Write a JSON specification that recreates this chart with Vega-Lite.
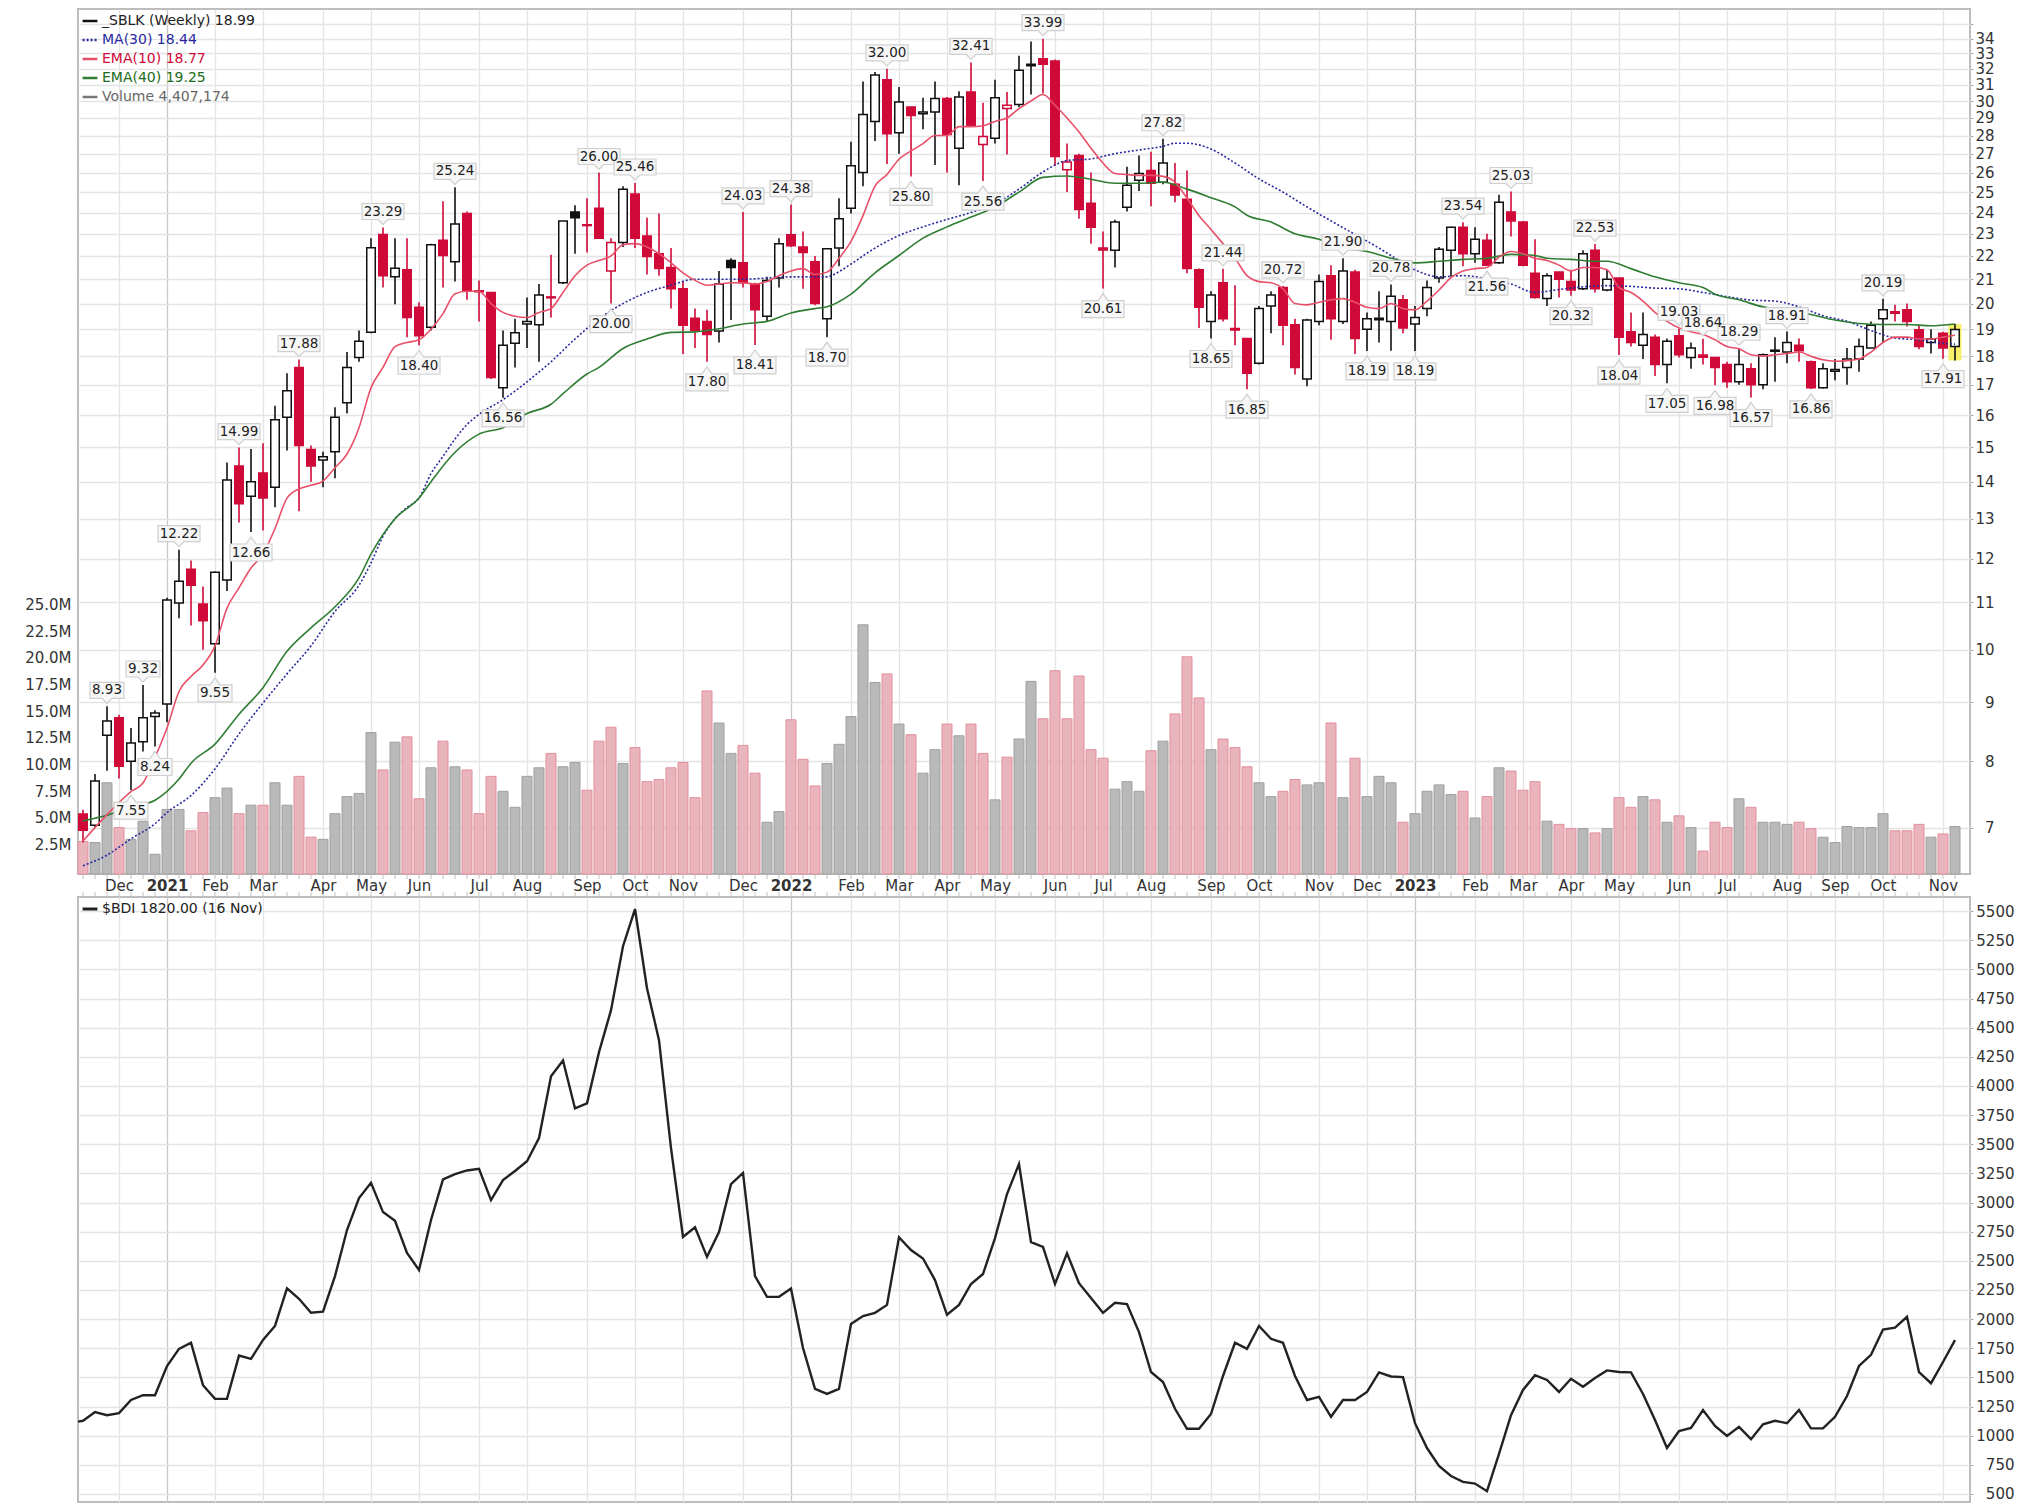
{
  "$schema": "https://vega.github.io/schema/vega-lite/v6.json",
  "background": "white",
  "padding": {"left": 23, "top": 8, "right": 20, "bottom": 4},
  "bounds": "flush",
  "spacing": 23,
  "resolve": {"scale": {"color": "independent"}, "legend": {"color": "independent"}},
  "config": {
    "font": "DejaVu Sans",
    "view": {"stroke": "#bdbdbd", "strokeWidth": 2},
    "axis": {"labelOverlap": false}
  },
  "datasets": {
    "candles": [
      {"date":"2020-11-20","open":7.2,"high":7.26,"low":6.8,"close":6.97,"volume":2800000,"dir":"down"},
      {"date":"2020-11-27","open":7.04,"high":7.8,"low":7.0,"close":7.69,"volume":2700000,"dir":"up"},
      {"date":"2020-12-04","open":8.43,"high":8.93,"low":7.85,"close":8.67,"volume":8300000,"dir":"up"},
      {"date":"2020-12-11","open":8.73,"high":8.78,"low":7.73,"close":7.92,"volume":4100000,"dir":"down"},
      {"date":"2020-12-18","open":8.0,"high":8.55,"low":7.55,"close":8.3,"volume":3000000,"dir":"up"},
      {"date":"2020-12-25","open":8.32,"high":9.32,"low":8.16,"close":8.73,"volume":4700000,"dir":"up"},
      {"date":"2021-01-01","open":8.75,"high":8.86,"low":8.24,"close":8.81,"volume":1600000,"dir":"up"},
      {"date":"2021-01-08","open":8.97,"high":11.1,"low":8.65,"close":11.05,"volume":5800000,"dir":"up"},
      {"date":"2021-01-15","open":10.98,"high":12.22,"low":10.65,"close":11.47,"volume":5800000,"dir":"up"},
      {"date":"2021-01-22","open":11.75,"high":11.96,"low":10.5,"close":11.38,"volume":3800000,"dir":"down"},
      {"date":"2021-01-29","open":10.96,"high":11.35,"low":10.0,"close":10.6,"volume":5500000,"dir":"down"},
      {"date":"2021-02-05","open":10.12,"high":11.7,"low":9.55,"close":11.68,"volume":6900000,"dir":"up"},
      {"date":"2021-02-12","open":11.5,"high":14.55,"low":11.25,"close":14.05,"volume":7800000,"dir":"up"},
      {"date":"2021-02-19","open":14.45,"high":14.99,"low":12.9,"close":13.4,"volume":5400000,"dir":"down"},
      {"date":"2021-02-26","open":13.6,"high":14.95,"low":12.66,"close":14.0,"volume":6200000,"dir":"up"},
      {"date":"2021-03-05","open":14.25,"high":15.12,"low":12.7,"close":13.55,"volume":6200000,"dir":"down"},
      {"date":"2021-03-12","open":13.85,"high":16.3,"low":13.3,"close":15.85,"volume":8300000,"dir":"up"},
      {"date":"2021-03-19","open":15.93,"high":17.4,"low":14.9,"close":16.8,"volume":6200000,"dir":"up"},
      {"date":"2021-03-26","open":17.6,"high":17.88,"low":13.2,"close":15.05,"volume":8900000,"dir":"down"},
      {"date":"2021-04-02","open":14.93,"high":15.05,"low":14.0,"close":14.45,"volume":3200000,"dir":"down"},
      {"date":"2021-04-09","open":14.62,"high":14.87,"low":13.85,"close":14.72,"volume":3000000,"dir":"up"},
      {"date":"2021-04-16","open":14.87,"high":16.25,"low":14.1,"close":15.93,"volume":5400000,"dir":"up"},
      {"date":"2021-04-23","open":16.4,"high":18.15,"low":16.05,"close":17.6,"volume":7000000,"dir":"up"},
      {"date":"2021-04-30","open":17.95,"high":18.95,"low":17.8,"close":18.55,"volume":7300000,"dir":"up"},
      {"date":"2021-05-07","open":18.88,"high":22.8,"low":18.85,"close":22.37,"volume":13000000,"dir":"up"},
      {"date":"2021-05-14","open":22.97,"high":23.29,"low":20.65,"close":21.15,"volume":9500000,"dir":"down"},
      {"date":"2021-05-21","open":21.1,"high":22.8,"low":19.97,"close":21.47,"volume":12100000,"dir":"up"},
      {"date":"2021-05-28","open":21.4,"high":22.8,"low":18.7,"close":19.45,"volume":12600000,"dir":"down"},
      {"date":"2021-06-04","open":19.85,"high":20.05,"low":18.4,"close":18.75,"volume":6800000,"dir":"down"},
      {"date":"2021-06-11","open":19.07,"high":22.55,"low":18.95,"close":22.5,"volume":9700000,"dir":"up"},
      {"date":"2021-06-18","open":22.7,"high":24.55,"low":20.65,"close":22.02,"volume":12200000,"dir":"down"},
      {"date":"2021-06-25","open":21.75,"high":25.24,"low":20.9,"close":23.45,"volume":9800000,"dir":"up"},
      {"date":"2021-07-02","open":23.95,"high":24.05,"low":20.15,"close":20.5,"volume":9500000,"dir":"down"},
      {"date":"2021-07-09","open":20.52,"high":20.95,"low":19.3,"close":20.48,"volume":5400000,"dir":"down"},
      {"date":"2021-07-16","open":20.45,"high":20.45,"low":17.2,"close":17.25,"volume":8900000,"dir":"down"},
      {"date":"2021-07-23","open":16.9,"high":18.95,"low":16.56,"close":18.4,"volume":7500000,"dir":"up"},
      {"date":"2021-07-30","open":18.47,"high":19.4,"low":17.6,"close":18.87,"volume":6000000,"dir":"up"},
      {"date":"2021-08-06","open":19.2,"high":20.25,"low":18.3,"close":19.3,"volume":8900000,"dir":"up"},
      {"date":"2021-08-13","open":19.17,"high":20.8,"low":17.8,"close":20.35,"volume":9700000,"dir":"up"},
      {"date":"2021-08-20","open":20.27,"high":22.05,"low":19.45,"close":20.23,"volume":11050000,"dir":"down"},
      {"date":"2021-08-27","open":20.85,"high":23.6,"low":20.8,"close":23.6,"volume":9800000,"dir":"up"},
      {"date":"2021-09-03","open":24.02,"high":24.35,"low":22.1,"close":23.75,"volume":10200000,"dir":"up"},
      {"date":"2021-09-10","open":23.42,"high":24.7,"low":22.15,"close":23.38,"volume":7600000,"dir":"down"},
      {"date":"2021-09-17","open":24.2,"high":26.0,"low":22.78,"close":22.8,"volume":12200000,"dir":"down"},
      {"date":"2021-09-24","open":21.35,"high":22.8,"low":20.0,"close":22.6,"volume":13500000,"dir":"down"},
      {"date":"2021-10-01","open":22.6,"high":25.3,"low":22.4,"close":25.15,"volume":10100000,"dir":"up"},
      {"date":"2021-10-08","open":24.9,"high":25.46,"low":22.35,"close":22.8,"volume":11600000,"dir":"down"},
      {"date":"2021-10-15","open":22.9,"high":23.75,"low":21.2,"close":21.98,"volume":8400000,"dir":"down"},
      {"date":"2021-10-22","open":22.1,"high":23.95,"low":21.15,"close":21.45,"volume":8600000,"dir":"down"},
      {"date":"2021-10-29","open":21.5,"high":22.35,"low":19.8,"close":20.6,"volume":9700000,"dir":"down"},
      {"date":"2021-11-05","open":20.6,"high":20.9,"low":18.08,"close":19.15,"volume":10200000,"dir":"down"},
      {"date":"2021-11-12","open":19.42,"high":19.8,"low":18.3,"close":18.95,"volume":6900000,"dir":"down"},
      {"date":"2021-11-19","open":19.3,"high":19.75,"low":17.8,"close":18.8,"volume":16900000,"dir":"down"},
      {"date":"2021-11-26","open":18.93,"high":21.35,"low":18.5,"close":20.8,"volume":13900000,"dir":"up"},
      {"date":"2021-12-03","open":21.8,"high":21.9,"low":19.35,"close":21.5,"volume":11050000,"dir":"up"},
      {"date":"2021-12-10","open":21.7,"high":24.03,"low":20.65,"close":20.85,"volume":11800000,"dir":"down"},
      {"date":"2021-12-17","open":20.8,"high":20.85,"low":18.41,"close":19.75,"volume":9200000,"dir":"down"},
      {"date":"2021-12-24","open":19.5,"high":21.1,"low":19.3,"close":20.95,"volume":4600000,"dir":"up"},
      {"date":"2021-12-31","open":21.05,"high":22.8,"low":20.65,"close":22.55,"volume":5600000,"dir":"up"},
      {"date":"2022-01-07","open":22.95,"high":24.38,"low":22.4,"close":22.45,"volume":14200000,"dir":"down"},
      {"date":"2022-01-14","open":22.4,"high":23.1,"low":20.6,"close":22.15,"volume":10500000,"dir":"down"},
      {"date":"2022-01-21","open":21.75,"high":22.0,"low":19.93,"close":20.0,"volume":8000000,"dir":"down"},
      {"date":"2022-01-28","open":19.4,"high":22.35,"low":18.7,"close":22.32,"volume":10100000,"dir":"up"},
      {"date":"2022-02-04","open":22.35,"high":24.7,"low":21.55,"close":23.7,"volume":11900000,"dir":"up"},
      {"date":"2022-02-11","open":24.2,"high":27.65,"low":23.95,"close":26.35,"volume":14500000,"dir":"up"},
      {"date":"2022-02-18","open":26.0,"high":31.2,"low":25.3,"close":29.2,"volume":23100000,"dir":"up"},
      {"date":"2022-02-25","open":28.8,"high":31.8,"low":27.7,"close":31.6,"volume":17700000,"dir":"up"},
      {"date":"2022-03-04","open":31.3,"high":32.0,"low":26.45,"close":28.1,"volume":18500000,"dir":"down"},
      {"date":"2022-03-11","open":28.15,"high":30.85,"low":27.0,"close":29.95,"volume":13800000,"dir":"up"},
      {"date":"2022-03-18","open":29.65,"high":29.65,"low":25.8,"close":29.15,"volume":12800000,"dir":"down"},
      {"date":"2022-03-25","open":29.25,"high":30.2,"low":28.35,"close":29.35,"volume":9200000,"dir":"up"},
      {"date":"2022-04-01","open":29.35,"high":31.2,"low":26.4,"close":30.15,"volume":11400000,"dir":"up"},
      {"date":"2022-04-08","open":30.15,"high":30.25,"low":26.0,"close":28.05,"volume":13800000,"dir":"down"},
      {"date":"2022-04-15","open":27.3,"high":30.6,"low":25.35,"close":30.25,"volume":12700000,"dir":"up"},
      {"date":"2022-04-22","open":30.55,"high":32.41,"low":28.5,"close":28.55,"volume":13800000,"dir":"down"},
      {"date":"2022-04-29","open":27.5,"high":29.9,"low":25.56,"close":27.95,"volume":11050000,"dir":"down"},
      {"date":"2022-05-06","open":27.85,"high":31.3,"low":27.55,"close":30.2,"volume":6700000,"dir":"up"},
      {"date":"2022-05-13","open":29.55,"high":30.55,"low":26.95,"close":29.75,"volume":10700000,"dir":"down"},
      {"date":"2022-05-20","open":29.8,"high":32.85,"low":29.65,"close":31.9,"volume":12400000,"dir":"up"},
      {"date":"2022-05-27","open":32.2,"high":33.8,"low":30.4,"close":32.3,"volume":17800000,"dir":"up"},
      {"date":"2022-06-03","open":32.65,"high":33.99,"low":30.45,"close":32.3,"volume":14300000,"dir":"down"},
      {"date":"2022-06-10","open":32.5,"high":32.6,"low":26.35,"close":26.85,"volume":18800000,"dir":"down"},
      {"date":"2022-06-17","open":26.15,"high":27.55,"low":25.0,"close":26.55,"volume":14300000,"dir":"down"},
      {"date":"2022-06-24","open":26.9,"high":27.0,"low":23.7,"close":24.15,"volume":18300000,"dir":"down"},
      {"date":"2022-07-01","open":24.45,"high":26.0,"low":22.55,"close":23.3,"volume":11400000,"dir":"down"},
      {"date":"2022-07-08","open":22.35,"high":23.1,"low":20.61,"close":22.27,"volume":10600000,"dir":"down"},
      {"date":"2022-07-15","open":22.25,"high":23.65,"low":21.5,"close":23.55,"volume":7700000,"dir":"up"},
      {"date":"2022-07-22","open":24.25,"high":26.3,"low":24.05,"close":25.35,"volume":8400000,"dir":"up"},
      {"date":"2022-07-29","open":25.6,"high":26.9,"low":25.05,"close":25.95,"volume":7500000,"dir":"up"},
      {"date":"2022-08-05","open":26.1,"high":27.1,"low":24.3,"close":25.45,"volume":11300000,"dir":"down"},
      {"date":"2022-08-12","open":25.5,"high":27.82,"low":25.4,"close":26.5,"volume":12200000,"dir":"up"},
      {"date":"2022-08-19","open":25.4,"high":26.5,"low":24.5,"close":24.85,"volume":14750000,"dir":"down"},
      {"date":"2022-08-26","open":24.65,"high":26.1,"low":21.25,"close":21.45,"volume":20100000,"dir":"down"},
      {"date":"2022-09-02","open":21.4,"high":21.45,"low":19.05,"close":19.85,"volume":16250000,"dir":"down"},
      {"date":"2022-09-09","open":19.3,"high":20.5,"low":18.65,"close":20.35,"volume":11400000,"dir":"up"},
      {"date":"2022-09-16","open":20.85,"high":21.44,"low":19.3,"close":19.4,"volume":12400000,"dir":"down"},
      {"date":"2022-09-23","open":19.03,"high":20.75,"low":18.4,"close":18.97,"volume":11600000,"dir":"down"},
      {"date":"2022-09-30","open":18.65,"high":18.65,"low":16.85,"close":17.4,"volume":9800000,"dir":"down"},
      {"date":"2022-10-07","open":17.75,"high":19.9,"low":17.7,"close":19.8,"volume":8300000,"dir":"up"},
      {"date":"2022-10-14","open":19.9,"high":20.5,"low":18.85,"close":20.35,"volume":7000000,"dir":"up"},
      {"date":"2022-10-21","open":20.65,"high":20.72,"low":18.4,"close":19.15,"volume":7500000,"dir":"down"},
      {"date":"2022-10-28","open":19.17,"high":19.4,"low":17.35,"close":17.6,"volume":8600000,"dir":"down"},
      {"date":"2022-11-04","open":17.2,"high":19.4,"low":16.95,"close":19.35,"volume":8100000,"dir":"up"},
      {"date":"2022-11-11","open":19.3,"high":21.2,"low":19.15,"close":20.9,"volume":8300000,"dir":"up"},
      {"date":"2022-11-18","open":21.15,"high":21.6,"low":18.6,"close":19.4,"volume":13900000,"dir":"down"},
      {"date":"2022-11-25","open":19.3,"high":21.9,"low":19.2,"close":21.35,"volume":6900000,"dir":"up"},
      {"date":"2022-12-02","open":21.3,"high":21.4,"low":18.08,"close":18.65,"volume":10600000,"dir":"down"},
      {"date":"2022-12-09","open":19.0,"high":19.65,"low":18.19,"close":19.4,"volume":7000000,"dir":"up"},
      {"date":"2022-12-16","open":19.36,"high":20.5,"low":18.5,"close":19.42,"volume":8900000,"dir":"up"},
      {"date":"2022-12-23","open":19.3,"high":20.78,"low":18.2,"close":20.3,"volume":8300000,"dir":"up"},
      {"date":"2022-12-30","open":20.15,"high":20.35,"low":18.85,"close":19.05,"volume":4600000,"dir":"down"},
      {"date":"2023-01-06","open":19.2,"high":19.9,"low":18.19,"close":19.45,"volume":5400000,"dir":"up"},
      {"date":"2023-01-13","open":19.8,"high":20.95,"low":19.5,"close":20.65,"volume":7500000,"dir":"up"},
      {"date":"2023-01-20","open":21.05,"high":22.4,"low":20.85,"close":22.3,"volume":8100000,"dir":"up"},
      {"date":"2023-01-27","open":22.25,"high":23.32,"low":21.1,"close":23.3,"volume":7200000,"dir":"up"},
      {"date":"2023-02-03","open":23.3,"high":23.54,"low":21.55,"close":22.1,"volume":7500000,"dir":"down"},
      {"date":"2023-02-10","open":22.1,"high":23.3,"low":21.7,"close":22.75,"volume":5000000,"dir":"up"},
      {"date":"2023-02-17","open":22.7,"high":23.0,"low":21.56,"close":21.6,"volume":7000000,"dir":"down"},
      {"date":"2023-02-24","open":21.7,"high":24.87,"low":21.65,"close":24.5,"volume":9700000,"dir":"up"},
      {"date":"2023-03-03","open":24.03,"high":25.03,"low":22.87,"close":23.6,"volume":9400000,"dir":"down"},
      {"date":"2023-03-10","open":23.55,"high":23.6,"low":21.55,"close":21.6,"volume":7600000,"dir":"down"},
      {"date":"2023-03-17","open":21.25,"high":22.75,"low":20.2,"close":20.25,"volume":8400000,"dir":"down"},
      {"date":"2023-03-24","open":20.2,"high":21.25,"low":19.9,"close":21.15,"volume":4700000,"dir":"up"},
      {"date":"2023-03-31","open":21.3,"high":21.3,"low":20.25,"close":21.0,"volume":4400000,"dir":"down"},
      {"date":"2023-04-07","open":20.9,"high":21.4,"low":20.32,"close":20.55,"volume":4000000,"dir":"down"},
      {"date":"2023-04-14","open":20.6,"high":22.25,"low":20.55,"close":22.1,"volume":4000000,"dir":"up"},
      {"date":"2023-04-21","open":22.25,"high":22.53,"low":20.45,"close":20.6,"volume":3600000,"dir":"down"},
      {"date":"2023-04-28","open":20.55,"high":21.4,"low":20.5,"close":21.0,"volume":4000000,"dir":"up"},
      {"date":"2023-05-05","open":21.05,"high":21.05,"low":18.04,"close":18.7,"volume":6900000,"dir":"down"},
      {"date":"2023-05-12","open":18.9,"high":19.65,"low":18.35,"close":18.5,"volume":6000000,"dir":"down"},
      {"date":"2023-05-19","open":18.4,"high":19.65,"low":17.9,"close":18.8,"volume":7000000,"dir":"up"},
      {"date":"2023-05-26","open":18.7,"high":18.8,"low":17.3,"close":17.7,"volume":6700000,"dir":"down"},
      {"date":"2023-06-02","open":17.7,"high":18.65,"low":17.05,"close":18.55,"volume":4600000,"dir":"up"},
      {"date":"2023-06-09","open":18.75,"high":19.03,"low":17.95,"close":18.05,"volume":5200000,"dir":"down"},
      {"date":"2023-06-16","open":17.95,"high":18.5,"low":17.55,"close":18.3,"volume":4100000,"dir":"up"},
      {"date":"2023-06-23","open":18.04,"high":18.64,"low":17.7,"close":17.96,"volume":1900000,"dir":"down"},
      {"date":"2023-06-30","open":17.95,"high":17.95,"low":16.98,"close":17.6,"volume":4600000,"dir":"down"},
      {"date":"2023-07-07","open":17.7,"high":17.8,"low":16.9,"close":17.1,"volume":4100000,"dir":"down"},
      {"date":"2023-07-14","open":17.1,"high":18.29,"low":17.0,"close":17.7,"volume":6800000,"dir":"up"},
      {"date":"2023-07-21","open":17.55,"high":17.75,"low":16.57,"close":17.0,"volume":6000000,"dir":"down"},
      {"date":"2023-07-28","open":17.0,"high":18.1,"low":16.85,"close":18.05,"volume":4600000,"dir":"up"},
      {"date":"2023-08-04","open":18.22,"high":18.7,"low":17.1,"close":18.18,"volume":4600000,"dir":"up"},
      {"date":"2023-08-11","open":18.15,"high":18.91,"low":17.75,"close":18.5,"volume":4400000,"dir":"up"},
      {"date":"2023-08-18","open":18.4,"high":18.65,"low":17.8,"close":18.2,"volume":4600000,"dir":"down"},
      {"date":"2023-08-25","open":17.8,"high":17.85,"low":16.86,"close":16.9,"volume":4000000,"dir":"down"},
      {"date":"2023-09-01","open":16.9,"high":17.75,"low":16.87,"close":17.55,"volume":3200000,"dir":"up"},
      {"date":"2023-09-08","open":17.47,"high":17.9,"low":17.15,"close":17.53,"volume":2700000,"dir":"up"},
      {"date":"2023-09-15","open":17.6,"high":18.3,"low":17.0,"close":17.9,"volume":4200000,"dir":"up"},
      {"date":"2023-09-22","open":17.9,"high":18.65,"low":17.45,"close":18.35,"volume":4100000,"dir":"up"},
      {"date":"2023-09-29","open":18.3,"high":19.3,"low":18.3,"close":19.15,"volume":4100000,"dir":"up"},
      {"date":"2023-10-06","open":19.4,"high":20.19,"low":18.5,"close":19.75,"volume":5400000,"dir":"up"},
      {"date":"2023-10-13","open":19.68,"high":19.95,"low":19.3,"close":19.62,"volume":3800000,"dir":"down"},
      {"date":"2023-10-20","open":19.75,"high":20.0,"low":19.1,"close":19.3,"volume":3800000,"dir":"down"},
      {"date":"2023-10-27","open":18.98,"high":19.15,"low":18.25,"close":18.35,"volume":4400000,"dir":"down"},
      {"date":"2023-11-03","open":18.5,"high":19.0,"low":18.1,"close":18.63,"volume":3200000,"dir":"up"},
      {"date":"2023-11-10","open":18.85,"high":18.9,"low":17.91,"close":18.3,"volume":3500000,"dir":"down"},
      {"date":"2023-11-17","open":18.35,"high":19.2,"low":17.85,"close":18.99,"volume":4200000,"dir":"up"}
    ],
    "ema10": [
      {"date":"2020-11-20","value":6.82},{"date":"2020-12-04","value":7.19},{"date":"2020-12-18","value":7.53},{"date":"2020-12-25","value":7.66},{"date":"2021-01-01","value":8.06},{"date":"2021-01-08","value":8.55},{"date":"2021-01-15","value":9.2},{"date":"2021-01-22","value":9.48},{"date":"2021-01-29","value":9.7},{"date":"2021-02-05","value":10.08},{"date":"2021-02-12","value":10.87},{"date":"2021-02-19","value":11.32},{"date":"2021-02-26","value":11.78},{"date":"2021-03-05","value":12.11},{"date":"2021-03-12","value":12.75},{"date":"2021-03-19","value":13.55},{"date":"2021-03-26","value":13.8},{"date":"2021-04-02","value":13.9},{"date":"2021-04-09","value":14.02},{"date":"2021-04-16","value":14.4},{"date":"2021-04-23","value":14.8},{"date":"2021-04-30","value":15.6},{"date":"2021-05-07","value":16.9},{"date":"2021-05-14","value":17.6},{"date":"2021-05-21","value":18.35},{"date":"2021-05-28","value":18.5},{"date":"2021-06-04","value":18.6},{"date":"2021-06-11","value":19.0},{"date":"2021-06-18","value":19.6},{"date":"2021-06-25","value":20.4},{"date":"2021-07-02","value":20.5},{"date":"2021-07-09","value":20.5},{"date":"2021-07-16","value":20.0},{"date":"2021-07-23","value":19.65},{"date":"2021-07-30","value":19.5},{"date":"2021-08-06","value":19.45},{"date":"2021-08-13","value":19.65},{"date":"2021-08-20","value":19.8},{"date":"2021-08-27","value":20.45},{"date":"2021-09-03","value":21.15},{"date":"2021-09-10","value":21.6},{"date":"2021-09-17","value":21.8},{"date":"2021-09-24","value":22.0},{"date":"2021-10-01","value":22.5},{"date":"2021-10-08","value":22.55},{"date":"2021-10-15","value":22.4},{"date":"2021-10-22","value":22.1},{"date":"2021-10-29","value":21.7},{"date":"2021-11-05","value":21.27},{"date":"2021-11-12","value":20.95},{"date":"2021-11-19","value":20.75},{"date":"2021-11-26","value":20.8},{"date":"2021-12-03","value":20.85},{"date":"2021-12-10","value":20.85},{"date":"2021-12-17","value":20.8},{"date":"2021-12-24","value":20.9},{"date":"2021-12-31","value":21.15},{"date":"2022-01-07","value":21.35},{"date":"2022-01-14","value":21.45},{"date":"2022-01-21","value":21.2},{"date":"2022-01-28","value":21.3},{"date":"2022-02-04","value":21.9},{"date":"2022-02-11","value":22.65},{"date":"2022-02-18","value":23.85},{"date":"2022-02-25","value":25.3},{"date":"2022-03-04","value":25.9},{"date":"2022-03-11","value":26.7},{"date":"2022-03-18","value":27.15},{"date":"2022-03-25","value":27.55},{"date":"2022-04-01","value":28.0},{"date":"2022-04-08","value":28.0},{"date":"2022-04-15","value":28.5},{"date":"2022-04-22","value":28.5},{"date":"2022-04-29","value":28.55},{"date":"2022-05-06","value":28.8},{"date":"2022-05-13","value":29.0},{"date":"2022-05-20","value":29.55},{"date":"2022-05-27","value":30.0},{"date":"2022-06-03","value":30.4},{"date":"2022-06-10","value":29.75},{"date":"2022-06-17","value":29.0},{"date":"2022-06-24","value":28.2},{"date":"2022-07-01","value":27.3},{"date":"2022-07-08","value":26.5},{"date":"2022-07-15","value":25.95},{"date":"2022-07-22","value":25.9},{"date":"2022-07-29","value":25.85},{"date":"2022-08-05","value":25.85},{"date":"2022-08-12","value":25.8},{"date":"2022-08-19","value":25.5},{"date":"2022-08-26","value":24.7},{"date":"2022-09-02","value":23.85},{"date":"2022-09-09","value":23.2},{"date":"2022-09-16","value":22.55},{"date":"2022-09-23","value":21.9},{"date":"2022-09-30","value":21.15},{"date":"2022-10-07","value":20.9},{"date":"2022-10-14","value":20.85},{"date":"2022-10-21","value":20.6},{"date":"2022-10-28","value":20.0},{"date":"2022-11-04","value":19.95},{"date":"2022-11-11","value":20.05},{"date":"2022-11-18","value":20.15},{"date":"2022-11-25","value":20.2},{"date":"2022-12-02","value":20.05},{"date":"2022-12-09","value":19.85},{"date":"2022-12-16","value":19.8},{"date":"2022-12-23","value":20.0},{"date":"2022-12-30","value":19.8},{"date":"2023-01-06","value":19.75},{"date":"2023-01-13","value":20.1},{"date":"2023-01-20","value":20.55},{"date":"2023-01-27","value":21.07},{"date":"2023-02-03","value":21.35},{"date":"2023-02-10","value":21.45},{"date":"2023-02-17","value":21.5},{"date":"2023-02-24","value":21.95},{"date":"2023-03-03","value":22.2},{"date":"2023-03-10","value":22.1},{"date":"2023-03-17","value":21.9},{"date":"2023-03-24","value":21.8},{"date":"2023-03-31","value":21.6},{"date":"2023-04-07","value":21.35},{"date":"2023-04-14","value":21.5},{"date":"2023-04-21","value":21.5},{"date":"2023-04-28","value":21.4},{"date":"2023-05-05","value":20.65},{"date":"2023-05-12","value":20.45},{"date":"2023-05-19","value":20.1},{"date":"2023-05-26","value":19.65},{"date":"2023-06-02","value":19.3},{"date":"2023-06-09","value":19.05},{"date":"2023-06-16","value":18.9},{"date":"2023-06-23","value":18.8},{"date":"2023-06-30","value":18.6},{"date":"2023-07-07","value":18.35},{"date":"2023-07-14","value":18.27},{"date":"2023-07-21","value":18.05},{"date":"2023-07-28","value":18.0},{"date":"2023-08-04","value":18.05},{"date":"2023-08-11","value":18.1},{"date":"2023-08-18","value":18.15},{"date":"2023-08-25","value":18.0},{"date":"2023-09-01","value":17.87},{"date":"2023-09-08","value":17.82},{"date":"2023-09-15","value":17.84},{"date":"2023-09-22","value":17.9},{"date":"2023-09-29","value":18.15},{"date":"2023-10-06","value":18.5},{"date":"2023-10-13","value":18.7},{"date":"2023-10-20","value":18.7},{"date":"2023-10-27","value":18.63},{"date":"2023-11-03","value":18.63},{"date":"2023-11-10","value":18.7},{"date":"2023-11-17","value":18.77}
    ],
    "ma30": [
      {"date":"2020-11-20","value":6.49},{"date":"2020-12-04","value":6.63},{"date":"2020-12-18","value":6.85},{"date":"2021-01-01","value":7.06},{"date":"2021-01-08","value":7.22},{"date":"2021-01-22","value":7.47},{"date":"2021-02-05","value":7.88},{"date":"2021-02-19","value":8.45},{"date":"2021-03-05","value":8.99},{"date":"2021-03-19","value":9.53},{"date":"2021-04-02","value":10.08},{"date":"2021-04-16","value":10.8},{"date":"2021-04-30","value":11.38},{"date":"2021-05-07","value":11.9},{"date":"2021-05-14","value":12.55},{"date":"2021-05-21","value":13.0},{"date":"2021-05-28","value":13.3},{"date":"2021-06-04","value":13.55},{"date":"2021-06-11","value":14.23},{"date":"2021-06-18","value":14.73},{"date":"2021-06-25","value":15.25},{"date":"2021-07-02","value":15.7},{"date":"2021-07-09","value":16.02},{"date":"2021-07-23","value":16.5},{"date":"2021-08-06","value":17.1},{"date":"2021-08-20","value":17.8},{"date":"2021-09-03","value":18.63},{"date":"2021-09-17","value":19.4},{"date":"2021-10-01","value":20.0},{"date":"2021-10-15","value":20.45},{"date":"2021-10-29","value":20.75},{"date":"2021-11-12","value":21.0},{"date":"2021-11-26","value":21.0},{"date":"2021-12-10","value":21.0},{"date":"2021-12-24","value":21.05},{"date":"2022-01-07","value":21.1},{"date":"2022-01-28","value":21.1},{"date":"2022-02-04","value":21.32},{"date":"2022-02-11","value":21.65},{"date":"2022-02-25","value":22.35},{"date":"2022-03-11","value":22.92},{"date":"2022-03-25","value":23.32},{"date":"2022-04-08","value":23.67},{"date":"2022-04-22","value":24.0},{"date":"2022-05-06","value":24.42},{"date":"2022-05-20","value":25.15},{"date":"2022-06-03","value":26.03},{"date":"2022-06-17","value":26.63},{"date":"2022-07-01","value":26.72},{"date":"2022-07-15","value":27.0},{"date":"2022-07-29","value":27.2},{"date":"2022-08-12","value":27.4},{"date":"2022-08-19","value":27.57},{"date":"2022-08-26","value":27.57},{"date":"2022-09-09","value":27.25},{"date":"2022-09-23","value":26.5},{"date":"2022-10-07","value":25.67},{"date":"2022-10-21","value":25.0},{"date":"2022-11-04","value":24.27},{"date":"2022-11-18","value":23.6},{"date":"2022-12-02","value":22.97},{"date":"2022-12-16","value":22.35},{"date":"2022-12-23","value":22.02},{"date":"2023-01-06","value":21.4},{"date":"2023-01-20","value":21.1},{"date":"2023-02-03","value":21.15},{"date":"2023-02-17","value":21.02},{"date":"2023-03-03","value":20.8},{"date":"2023-03-17","value":20.45},{"date":"2023-03-31","value":20.57},{"date":"2023-04-14","value":20.68},{"date":"2023-04-28","value":20.73},{"date":"2023-05-12","value":20.7},{"date":"2023-05-26","value":20.63},{"date":"2023-06-09","value":20.6},{"date":"2023-06-23","value":20.45},{"date":"2023-07-07","value":20.28},{"date":"2023-07-21","value":20.14},{"date":"2023-08-04","value":20.1},{"date":"2023-08-18","value":19.87},{"date":"2023-09-01","value":19.52},{"date":"2023-09-15","value":19.3},{"date":"2023-09-29","value":18.95},{"date":"2023-10-13","value":18.67},{"date":"2023-10-27","value":18.6},{"date":"2023-11-10","value":18.47},{"date":"2023-11-17","value":18.44}
    ],
    "ema40": [
      {"date":"2020-11-20","value":7.1},{"date":"2020-12-04","value":7.18},{"date":"2020-12-18","value":7.3},{"date":"2021-01-01","value":7.4},{"date":"2021-01-15","value":7.72},{"date":"2021-01-22","value":7.97},{"date":"2021-02-05","value":8.28},{"date":"2021-02-19","value":8.79},{"date":"2021-03-05","value":9.27},{"date":"2021-03-19","value":9.97},{"date":"2021-04-02","value":10.45},{"date":"2021-04-16","value":10.9},{"date":"2021-04-30","value":11.55},{"date":"2021-05-07","value":12.11},{"date":"2021-05-21","value":13.0},{"date":"2021-06-04","value":13.55},{"date":"2021-06-11","value":14.0},{"date":"2021-06-25","value":14.85},{"date":"2021-07-09","value":15.4},{"date":"2021-07-23","value":15.6},{"date":"2021-08-06","value":16.05},{"date":"2021-08-20","value":16.35},{"date":"2021-08-27","value":16.7},{"date":"2021-09-10","value":17.37},{"date":"2021-09-17","value":17.6},{"date":"2021-10-01","value":18.28},{"date":"2021-10-15","value":18.63},{"date":"2021-10-29","value":18.88},{"date":"2021-11-12","value":18.9},{"date":"2021-11-26","value":19.02},{"date":"2021-12-10","value":19.2},{"date":"2021-12-24","value":19.3},{"date":"2022-01-07","value":19.63},{"date":"2022-01-21","value":19.8},{"date":"2022-01-28","value":19.87},{"date":"2022-02-11","value":20.38},{"date":"2022-02-25","value":21.27},{"date":"2022-03-11","value":22.02},{"date":"2022-03-25","value":22.8},{"date":"2022-04-08","value":23.32},{"date":"2022-04-22","value":23.78},{"date":"2022-05-06","value":24.27},{"date":"2022-05-20","value":25.0},{"date":"2022-06-03","value":25.75},{"date":"2022-06-17","value":25.82},{"date":"2022-07-01","value":25.65},{"date":"2022-07-15","value":25.45},{"date":"2022-07-29","value":25.45},{"date":"2022-08-12","value":25.5},{"date":"2022-08-26","value":25.15},{"date":"2022-09-09","value":24.72},{"date":"2022-09-23","value":24.27},{"date":"2022-09-30","value":23.87},{"date":"2022-10-14","value":23.55},{"date":"2022-10-28","value":23.0},{"date":"2022-11-11","value":22.75},{"date":"2022-11-25","value":22.35},{"date":"2022-12-09","value":22.2},{"date":"2022-12-23","value":21.9},{"date":"2023-01-06","value":21.7},{"date":"2023-01-20","value":21.77},{"date":"2023-02-03","value":21.85},{"date":"2023-02-17","value":21.9},{"date":"2023-03-03","value":22.07},{"date":"2023-03-17","value":22.02},{"date":"2023-03-24","value":21.9},{"date":"2023-04-07","value":21.85},{"date":"2023-04-21","value":21.77},{"date":"2023-04-28","value":21.77},{"date":"2023-05-12","value":21.45},{"date":"2023-05-26","value":21.1},{"date":"2023-06-09","value":20.85},{"date":"2023-06-23","value":20.65},{"date":"2023-06-30","value":20.38},{"date":"2023-07-14","value":20.15},{"date":"2023-07-28","value":19.87},{"date":"2023-08-11","value":19.75},{"date":"2023-08-25","value":19.57},{"date":"2023-09-08","value":19.35},{"date":"2023-09-22","value":19.22},{"date":"2023-10-06","value":19.18},{"date":"2023-10-20","value":19.18},{"date":"2023-11-03","value":19.13},{"date":"2023-11-17","value":19.2}
    ],
    "labels": [
      {"date":"2020-12-04","price":8.93,"side":"high"},{"date":"2020-12-25","price":9.32,"side":"high"},{"date":"2021-01-15","price":12.22,"side":"high"},{"date":"2021-02-19","price":14.99,"side":"high"},{"date":"2021-03-26","price":17.88,"side":"high"},{"date":"2021-05-14","price":23.29,"side":"high"},{"date":"2021-06-25","price":25.24,"side":"high"},{"date":"2021-09-17","price":26.0,"side":"high"},{"date":"2021-10-08","price":25.46,"side":"high"},{"date":"2021-12-10","price":24.03,"side":"high"},{"date":"2022-01-07","price":24.38,"side":"high"},{"date":"2022-03-04","price":32.0,"side":"high"},{"date":"2022-04-22","price":32.41,"side":"high"},{"date":"2022-06-03","price":33.99,"side":"high"},{"date":"2022-08-12","price":27.82,"side":"high"},{"date":"2022-09-16","price":21.44,"side":"high"},{"date":"2022-10-21","price":20.72,"side":"high"},{"date":"2022-11-25","price":21.9,"side":"high"},{"date":"2022-12-23","price":20.78,"side":"high"},{"date":"2023-02-03","price":23.54,"side":"high"},{"date":"2023-03-03","price":25.03,"side":"high"},{"date":"2023-04-21","price":22.53,"side":"high"},{"date":"2023-06-09","price":19.03,"side":"high"},{"date":"2023-06-23","price":18.64,"side":"high"},{"date":"2023-07-14","price":18.29,"side":"high"},{"date":"2023-08-11","price":18.91,"side":"high"},{"date":"2023-10-06","price":20.19,"side":"high"},
      {"date":"2020-12-18","price":7.55,"side":"low"},{"date":"2021-01-01","price":8.24,"side":"low"},{"date":"2021-02-05","price":9.55,"side":"low"},{"date":"2021-02-26","price":12.66,"side":"low"},{"date":"2021-06-04","price":18.4,"side":"low"},{"date":"2021-07-23","price":16.56,"side":"low"},{"date":"2021-09-24","price":20.0,"side":"low"},{"date":"2021-11-19","price":17.8,"side":"low"},{"date":"2021-12-17","price":18.41,"side":"low"},{"date":"2022-01-28","price":18.7,"side":"low"},{"date":"2022-03-18","price":25.8,"side":"low"},{"date":"2022-04-29","price":25.56,"side":"low"},{"date":"2022-07-08","price":20.61,"side":"low"},{"date":"2022-09-09","price":18.65,"side":"low"},{"date":"2022-09-30","price":16.85,"side":"low"},{"date":"2022-12-09","price":18.19,"side":"low"},{"date":"2023-01-06","price":18.19,"side":"low"},{"date":"2023-02-17","price":21.56,"side":"low"},{"date":"2023-04-07","price":20.32,"side":"low"},{"date":"2023-05-05","price":18.04,"side":"low"},{"date":"2023-06-02","price":17.05,"side":"low"},{"date":"2023-06-30","price":16.98,"side":"low"},{"date":"2023-07-21","price":16.57,"side":"low"},{"date":"2023-08-25","price":16.86,"side":"low"},{"date":"2023-11-10","price":17.91,"side":"low"}
    ],
    "bdi": [
      {"date":"2020-11-13","value":1110},{"date":"2020-11-20","value":1128},{"date":"2020-11-27","value":1203},{"date":"2020-12-04","value":1176},{"date":"2020-12-11","value":1193},{"date":"2020-12-18","value":1306},{"date":"2020-12-25","value":1347},{"date":"2021-01-01","value":1347},{"date":"2021-01-08","value":1598},{"date":"2021-01-15","value":1745},{"date":"2021-01-22","value":1797},{"date":"2021-01-29","value":1433},{"date":"2021-02-05","value":1316},{"date":"2021-02-12","value":1316},{"date":"2021-02-19","value":1687},{"date":"2021-02-26","value":1659},{"date":"2021-03-05","value":1821},{"date":"2021-03-12","value":1941},{"date":"2021-03-19","value":2263},{"date":"2021-03-26","value":2174},{"date":"2021-04-02","value":2054},{"date":"2021-04-09","value":2064},{"date":"2021-04-16","value":2369},{"date":"2021-04-23","value":2764},{"date":"2021-04-30","value":3038},{"date":"2021-05-07","value":3169},{"date":"2021-05-14","value":2918},{"date":"2021-05-21","value":2843},{"date":"2021-05-28","value":2568},{"date":"2021-06-04","value":2421},{"date":"2021-06-11","value":2850},{"date":"2021-06-18","value":3199},{"date":"2021-06-25","value":3244},{"date":"2021-07-02","value":3275},{"date":"2021-07-09","value":3289},{"date":"2021-07-16","value":3021},{"date":"2021-07-23","value":3193},{"date":"2021-07-30","value":3271},{"date":"2021-08-06","value":3354},{"date":"2021-08-13","value":3553},{"date":"2021-08-20","value":4084},{"date":"2021-08-27","value":4218},{"date":"2021-09-03","value":3807},{"date":"2021-09-10","value":3851},{"date":"2021-09-17","value":4290},{"date":"2021-09-24","value":4650},{"date":"2021-10-01","value":5199},{"date":"2021-10-08","value":5518},{"date":"2021-10-15","value":4839},{"date":"2021-10-22","value":4393},{"date":"2021-10-29","value":3467},{"date":"2021-11-05","value":2705},{"date":"2021-11-12","value":2788},{"date":"2021-11-19","value":2534},{"date":"2021-11-26","value":2747},{"date":"2021-12-03","value":3158},{"date":"2021-12-10","value":3254},{"date":"2021-12-17","value":2369},{"date":"2021-12-24","value":2191},{"date":"2021-12-31","value":2191},{"date":"2022-01-07","value":2263},{"date":"2022-01-14","value":1752},{"date":"2022-01-21","value":1402},{"date":"2022-01-28","value":1358},{"date":"2022-02-04","value":1402},{"date":"2022-02-11","value":1958},{"date":"2022-02-18","value":2026},{"date":"2022-02-25","value":2054},{"date":"2022-03-04","value":2122},{"date":"2022-03-11","value":2702},{"date":"2022-03-18","value":2592},{"date":"2022-03-25","value":2520},{"date":"2022-04-01","value":2335},{"date":"2022-04-08","value":2037},{"date":"2022-04-15","value":2122},{"date":"2022-04-22","value":2301},{"date":"2022-04-29","value":2387},{"date":"2022-05-06","value":2695},{"date":"2022-05-13","value":3073},{"date":"2022-05-20","value":3330},{"date":"2022-05-27","value":2661},{"date":"2022-06-03","value":2620},{"date":"2022-06-10","value":2301},{"date":"2022-06-17","value":2565},{"date":"2022-06-24","value":2308},{"date":"2022-07-01","value":2181},{"date":"2022-07-08","value":2054},{"date":"2022-07-15","value":2140},{"date":"2022-07-22","value":2129},{"date":"2022-07-29","value":1889},{"date":"2022-08-05","value":1546},{"date":"2022-08-12","value":1460},{"date":"2022-08-19","value":1231},{"date":"2022-08-26","value":1059},{"date":"2022-09-02","value":1059},{"date":"2022-09-09","value":1186},{"date":"2022-09-16","value":1512},{"date":"2022-09-23","value":1797},{"date":"2022-09-30","value":1745},{"date":"2022-10-07","value":1941},{"date":"2022-10-14","value":1831},{"date":"2022-10-21","value":1797},{"date":"2022-10-28","value":1512},{"date":"2022-11-04","value":1306},{"date":"2022-11-11","value":1333},{"date":"2022-11-18","value":1162},{"date":"2022-11-25","value":1306},{"date":"2022-12-02","value":1306},{"date":"2022-12-09","value":1375},{"date":"2022-12-16","value":1543},{"date":"2022-12-23","value":1508},{"date":"2022-12-30","value":1502},{"date":"2023-01-06","value":1107},{"date":"2023-01-13","value":894},{"date":"2023-01-20","value":740},{"date":"2023-01-27","value":654},{"date":"2023-02-03","value":603},{"date":"2023-02-10","value":589},{"date":"2023-02-17","value":524},{"date":"2023-02-24","value":843},{"date":"2023-03-03","value":1176},{"date":"2023-03-10","value":1392},{"date":"2023-03-17","value":1519},{"date":"2023-03-24","value":1478},{"date":"2023-03-31","value":1375},{"date":"2023-04-07","value":1488},{"date":"2023-04-14","value":1419},{"date":"2023-04-21","value":1495},{"date":"2023-04-28","value":1560},{"date":"2023-05-05","value":1546},{"date":"2023-05-12","value":1543},{"date":"2023-05-19","value":1358},{"date":"2023-05-26","value":1135},{"date":"2023-06-02","value":894},{"date":"2023-06-09","value":1039},{"date":"2023-06-16","value":1066},{"date":"2023-06-23","value":1220},{"date":"2023-06-30","value":1083},{"date":"2023-07-07","value":997},{"date":"2023-07-14","value":1076},{"date":"2023-07-21","value":970},{"date":"2023-07-28","value":1097},{"date":"2023-08-04","value":1128},{"date":"2023-08-11","value":1107},{"date":"2023-08-18","value":1220},{"date":"2023-08-25","value":1063},{"date":"2023-09-01","value":1063},{"date":"2023-09-08","value":1162},{"date":"2023-09-15","value":1340},{"date":"2023-09-22","value":1598},{"date":"2023-09-29","value":1694},{"date":"2023-10-06","value":1910},{"date":"2023-10-13","value":1927},{"date":"2023-10-20","value":2020},{"date":"2023-10-27","value":1546},{"date":"2023-11-03","value":1450},{"date":"2023-11-10","value":1632},{"date":"2023-11-17","value":1820}
    ]
  },
  "vconcat": [
    {
      "width": 1892,
      "height": 865,
      "resolve": {"scale": {"y": "independent", "fill": "independent", "stroke": "independent"}},
      "layer": [
        {
          "data": {"name": "candles"},
          "mark": {"type": "bar", "size": 10, "strokeWidth": 1},
          "encoding": {
            "x": {
              "field": "date", "type": "temporal",
              "scale": {"domain": ["2020-11-17T02:00:00", "2023-11-25T18:00:00"], "nice": false, "padding": 0},
              "title": null,
              "axis": {
                "values": ["2020-12-11","2021-01-08","2021-02-05","2021-03-05","2021-04-09","2021-05-07","2021-06-04","2021-07-09","2021-08-06","2021-09-10","2021-10-08","2021-11-05","2021-12-10","2022-01-07","2022-02-11","2022-03-11","2022-04-08","2022-05-06","2022-06-10","2022-07-08","2022-08-05","2022-09-09","2022-10-07","2022-11-11","2022-12-09","2023-01-06","2023-02-10","2023-03-10","2023-04-07","2023-05-05","2023-06-09","2023-07-07","2023-08-11","2023-09-08","2023-10-06","2023-11-10"],
                "labelExpr": "month(datum.value) == 0 ? timeFormat(datum.value, '%Y') : timeFormat(datum.value, '%b')",
                "labelFontSize": 15,
                "labelColor": "#333",
                "labelPadding": 4,
                "labelFontWeight": {"condition": {"test": "month(datum.value) == 0", "value": "bold"}, "value": "normal"},
                "domain": false,
                "ticks": false,
                "grid": true,
                "gridColor": {"condition": {"test": "month(datum.value) == 0", "value": "#c8c8c8"}, "value": "#e4e4e4"},
                "gridWidth": 1.3
              }
            },
            "y": {
              "field": "volume", "type": "quantitative",
              "scale": {"domain": [-250000, 80800000], "nice": false, "zero": false},
              "title": null,
              "axis": {
                "orient": "left",
                "values": [2500000,5000000,7500000,10000000,12500000,15000000,17500000,20000000,22500000,25000000],
                "labelExpr": "format(datum.value / 1000000, '.1f') + 'M'",
                "labelFontSize": 15,
                "labelColor": "#333",
                "labelPadding": 7,
                "domain": false,
                "ticks": false,
                "grid": false
              }
            },
            "y2": {"datum": -250000},
            "fill": {"field": "dir", "type": "nominal", "scale": {"domain": ["up", "down"], "range": ["#b9b9b9", "#e9b4bc"]}, "legend": null},
            "stroke": {"field": "dir", "type": "nominal", "scale": {"domain": ["up", "down"], "range": ["#a0a0a0", "#e28f9c"]}, "legend": null}
          }
        },
        {
          "encoding": {
            "x": {"field": "date", "type": "temporal"},
            "y": {
              "scale": {"type": "log", "domain": [6.384, 36.07], "nice": false}
            }
          },
          "layer": [
            {
              "data": {"name": "candles"},
              "transform": [{"filter": "datum.close == 18.99"}],
              "mark": {"type": "bar", "size": 13, "color": "#f7f06a"},
              "encoding": {
                "y": {
                  "field": "high", "type": "quantitative",
                  "scale": {"type": "log", "domain": [6.384, 36.07], "nice": false},
                  "title": null,
                  "axis": {
                    "orient": "right",
                    "values": [7,8,9,10,11,12,13,14,15,16,17,18,19,20,21,22,23,24,25,26,27,28,29,30,31,32,33,34,35],
                    "labelExpr": "datum.value > 34 ? '' : datum.value",
                    "labelFontSize": 15,
                    "labelColor": "#333",
                    "labelAlign": "right",
                    "labelPadding": 21,
                    "domain": false,
                    "ticks": true,
                    "tickSize": 3,
                    "tickColor": "#aaaaaa",
                    "grid": true,
                    "gridColor": "#e4e4e4",
                    "gridWidth": 1.3
                  }
                },
                "y2": {"field": "low"}
              }
            },
            {
              "data": {"name": "candles"},
              "mark": {"type": "tick", "orient": "vertical", "size": 4, "thickness": 1, "color": "#aaaaaa", "yOffset": 3, "clip": false},
              "encoding": {
                "y": {"datum": 6.384}
              }
            },
            {
              "data": {"name": "candles"},
              "mark": {"type": "tick", "orient": "vertical", "size": 4, "thickness": 1, "color": "#aaaaaa", "yOffset": 20, "clip": false},
              "encoding": {
                "y": {"datum": 6.384}
              }
            },
            {
              "data": {"name": "candles"},
              "mark": {"type": "rule", "strokeWidth": 1.6},
              "encoding": {
                "y": {"field": "low", "type": "quantitative", "title": null},
                "y2": {"field": "high"},
                "stroke": {"field": "dir", "type": "nominal", "scale": {"domain": ["up", "down"], "range": ["#111111", "#cf0a38"]}, "legend": null}
              }
            },
            {
              "data": {"name": "candles"},
              "mark": {"type": "bar", "size": 8.5, "strokeWidth": 1.5},
              "encoding": {
                "y": {"field": "open", "type": "quantitative", "title": null},
                "y2": {"field": "close"},
                "fill": {
                  "condition": {"test": "datum.close > datum.open", "value": "#ffffff"},
                  "field": "dir", "type": "nominal", "scale": {"domain": ["up", "down"], "range": ["#111111", "#cf0a38"]}, "legend": null
                },
                "stroke": {"field": "dir", "type": "nominal", "scale": {"domain": ["up", "down"], "range": ["#111111", "#cf0a38"]}, "legend": null}
              }
            },
            {
              "data": {"name": "ma30"},
              "mark": {"type": "line", "strokeWidth": 1.6, "strokeDash": [2, 2], "interpolate": "monotone"},
              "encoding": {
                "y": {"field": "value", "type": "quantitative", "title": null},
                "color": {
                  "datum": "MA(30) 18.44",
                  "scale": {
                    "domain": ["_SBLK (Weekly) 18.99", "MA(30) 18.44", "EMA(10) 18.77", "EMA(40) 19.25", "Volume 4,407,174"],
                    "range": ["#111111", "#2a2aa0", "#e8506a", "#2f7d32", "#777777"]
                  },
                  "legend": {
                    "orient": "none",
                    "legendX": 3,
                    "legendY": 3,
                    "title": null,
                    "symbolType": "stroke",
                    "symbolSize": 220,
                    "symbolStrokeWidth": 2.5,
                    "symbolDash": {"expr": "indexof(datum.value, 'MA(') == 0 ? [2, 2] : [1, 0]"},
                    "labelFontSize": 14,
                    "labelLimit": 300,
                    "labelOffset": 3,
                    "rowPadding": 3,
                    "labelColor": {"expr": "indexof(datum.value, 'MA(') == 0 ? '#2a2aa0' : indexof(datum.value, 'EMA(10') == 0 ? '#cf0a38' : indexof(datum.value, 'EMA(40') == 0 ? '#1d6b20' : indexof(datum.value, 'Vol') == 0 ? '#666666' : '#222222'"}
                  }
                }
              }
            },
            {
              "data": {"name": "ema40"},
              "mark": {"type": "line", "strokeWidth": 1.6, "interpolate": "monotone"},
              "encoding": {
                "y": {"field": "value", "type": "quantitative", "title": null},
                "color": {"datum": "EMA(40) 19.25"}
              }
            },
            {
              "data": {"name": "ema10"},
              "mark": {"type": "line", "strokeWidth": 1.6, "interpolate": "monotone"},
              "encoding": {
                "y": {"field": "value", "type": "quantitative", "title": null},
                "color": {"datum": "EMA(10) 18.77"}
              }
            },
            {
              "data": {"name": "labels"},
              "transform": [{"filter": "datum.side == 'high'"}],
              "mark": {"type": "point", "filled": true, "size": 4, "fill": "#f7f7f7", "stroke": "#cfcfcf", "strokeWidth": 1.2, "opacity": 1},
              "encoding": {
                "y": {"field": "price", "type": "quantitative", "title": null},
                "shape": {
                  "condition": {"test": "datum.price < 10", "value": "M-17,-24H17V-8H5L0,-3L-5,-8H-17Z"},
                  "value": "M-21,-24H21V-8H5L0,-3L-5,-8H-21Z"
                }
              }
            },
            {
              "data": {"name": "labels"},
              "transform": [{"filter": "datum.side == 'low'"}],
              "mark": {"type": "point", "filled": true, "size": 4, "fill": "#f7f7f7", "stroke": "#cfcfcf", "strokeWidth": 1.2, "opacity": 1},
              "encoding": {
                "y": {"field": "price", "type": "quantitative", "title": null},
                "shape": {
                  "condition": {"test": "datum.price < 10", "value": "M-17,12H-5L0,5L5,12H17V29H-17Z"},
                  "value": "M-21,12H-5L0,5L5,12H21V29H-21Z"
                }
              }
            },
            {
              "data": {"name": "labels"},
              "transform": [{"filter": "datum.side == 'high'"}],
              "mark": {"type": "text", "dy": -16, "fontSize": 13.5, "color": "#222222"},
              "encoding": {
                "y": {"field": "price", "type": "quantitative", "title": null},
                "text": {"field": "price", "type": "quantitative", "format": ".2f"}
              }
            },
            {
              "data": {"name": "labels"},
              "transform": [{"filter": "datum.side == 'low'"}],
              "mark": {"type": "text", "dy": 20.5, "fontSize": 13.5, "color": "#222222"},
              "encoding": {
                "y": {"field": "price", "type": "quantitative", "title": null},
                "text": {"field": "price", "type": "quantitative", "format": ".2f"}
              }
            }
          ]
        }
      ]
    },
    {
      "width": 1892,
      "height": 605,
      "data": {"name": "bdi"},
      "mark": {"type": "line", "color": "#222222", "strokeWidth": 2.4, "clip": true},
      "encoding": {
        "x": {
          "field": "date", "type": "temporal",
          "scale": {"domain": ["2020-11-17T02:00:00", "2023-11-25T18:00:00"], "nice": false, "padding": 0},
          "title": null,
          "axis": {
            "values": ["2020-12-11","2021-01-08","2021-02-05","2021-03-05","2021-04-09","2021-05-07","2021-06-04","2021-07-09","2021-08-06","2021-09-10","2021-10-08","2021-11-05","2021-12-10","2022-01-07","2022-02-11","2022-03-11","2022-04-08","2022-05-06","2022-06-10","2022-07-08","2022-08-05","2022-09-09","2022-10-07","2022-11-11","2022-12-09","2023-01-06","2023-02-10","2023-03-10","2023-04-07","2023-05-05","2023-06-09","2023-07-07","2023-08-11","2023-09-08","2023-10-06","2023-11-10"],
            "labels": false,
            "domain": false,
            "ticks": false,
            "grid": true,
            "gridColor": {"condition": {"test": "month(datum.value) == 0", "value": "#c8c8c8"}, "value": "#e4e4e4"},
            "gridWidth": 1.3
          }
        },
        "y": {
          "field": "value", "type": "quantitative",
          "scale": {"domain": [431, 5621], "nice": false, "zero": false},
          "title": null,
          "axis": {
            "orient": "right",
            "values": [500,750,1000,1250,1500,1750,2000,2250,2500,2750,3000,3250,3500,3750,4000,4250,4500,4750,5000,5250,5500],
            "labelFontSize": 15,
            "labelColor": "#333",
            "labelAlign": "right",
            "labelPadding": 41,
            "format": "d",
            "domain": false,
            "ticks": true,
            "tickSize": 3,
            "tickColor": "#aaaaaa",
            "grid": true,
            "gridColor": "#e4e4e4",
            "gridWidth": 1.3
          }
        },
        "color": {
          "datum": "$BDI 1820.00 (16 Nov)",
          "scale": {"domain": ["$BDI 1820.00 (16 Nov)"], "range": ["#222222"]},
          "legend": {
            "orient": "none",
            "legendX": 3,
            "legendY": 3,
            "title": null,
            "symbolType": "stroke",
            "symbolSize": 220,
            "symbolStrokeWidth": 3,
            "labelFontSize": 14,
            "labelColor": "#222222",
            "labelLimit": 300,
            "labelOffset": 3
          }
        }
      }
    }
  ]
}
